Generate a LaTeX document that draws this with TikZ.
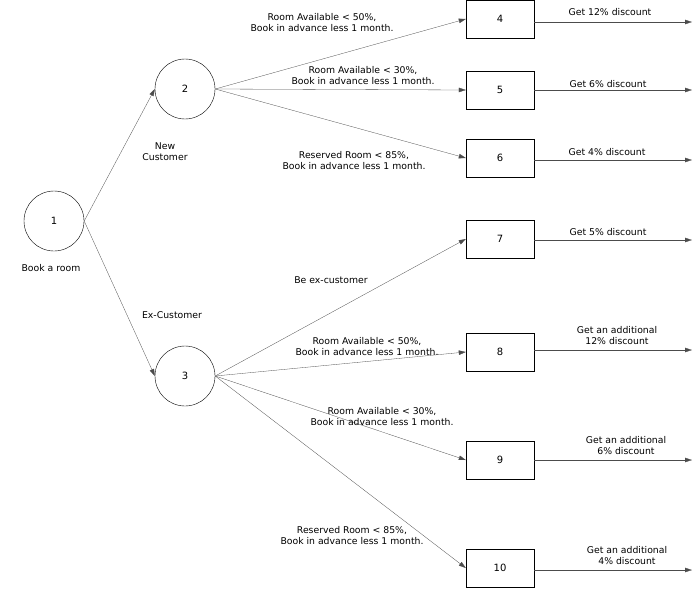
\documentclass[tikz,border=0pt]{standalone}
\usepackage{fontspec}
\setmainfont{DejaVu Sans}
\usetikzlibrary{arrows.meta}
\tikzset{state/.style={circle, draw, minimum size=60pt, inner sep=0pt, font=\fontsize{10}{12}\selectfont},
  box/.style={rectangle, draw, minimum width=68pt, minimum height=38pt, inner sep=0pt, font=\fontsize{10}{12}\selectfont},
  link/.style={draw=black!70, line width=0.3pt, -{Triangle[length=7pt,width=4.5pt]}},
  lbl/.style={font=\fontsize{9.3}{11}\selectfont, align=center, inner sep=0pt}}
\begin{document}
\begin{tikzpicture}[x=1pt,y=-1pt]
\useasboundingbox (0,0) rectangle (696,594);
% states
\node [state] (s1) at (54,221) {1};
\node [state] (s2) at (185,89) {2};
\node [state] (s3) at (185,376) {3};
% outcomes
\node [box] (b4) at (500,19) {4};
\node [box] (b5) at (500,90) {5};
\node [box] (b6) at (500,158) {6};
\node [box] (b7) at (500,239) {7};
\node [box] (b8) at (500,352) {8};
\node [box] (b9) at (500,460) {9};
\node [box] (b10) at (500,568) {10};
\coordinate (e4) at (692,22);
\coordinate (e5) at (692,90);
\coordinate (e6) at (692,160);
\coordinate (e7) at (692,240);
\coordinate (e8) at (692,350);
\coordinate (e9) at (692,460);
\coordinate (e10) at (692,570);
\draw [link] (s1.east) -- (s2.west);
\draw [link] (s1.east) -- (s3.west);
\draw [link] (s2.east) -- (b4.west);
\draw [link] (s2.east) -- (b5.west);
\draw [link] (s2.east) -- (b6.west);
\draw [link] (s3.east) -- (b7.west);
\draw [link] (s3.east) -- (b8.west);
\draw [link] (s3.east) -- (b9.west);
\draw [link] (s3.east) -- (b10.west);
\foreach \n in {4,...,10}
  \draw [link] (b\n.east |- e\n) -- (e\n);
% labels
\node [lbl] (l1) at (51,268) {Book a room};
\node [lbl] (l2) at (165,152) {New\\Customer};
\node [lbl] (l3) at (172,315) {Ex-Customer};
\node [lbl] (l4) at (322,23) {Room Available < 50\%,\\Book in advance less 1 month.};
\node [lbl] (l5) at (363,76) {Room Available < 30\%,\\Book in advance less 1 month.};
\node [lbl] (l6) at (354,161) {Reserved Room < 85\%,\\Book in advance less 1 month.};
\node [lbl] (l7) at (331,280) {Be ex-customer};
\node [lbl] (l8) at (367,347) {Room Available < 50\%,\\Book in advance less 1 month.};
\node [lbl] (l9) at (382,417) {Room Available < 30\%,\\Book in advance less 1 month.};
\node [lbl] (l10) at (352,536) {Reserved Room < 85\%,\\Book in advance less 1 month.};
\node [lbl] (o4) at (610,12) {Get 12\% discount};
\node [lbl] (o5) at (608,84) {Get 6\% discount};
\node [lbl] (o6) at (607,152) {Get 4\% discount};
\node [lbl] (o7) at (608,232) {Get 5\% discount};
\node [lbl] (o8) at (617,336) {Get an additional\\12\% discount};
\node [lbl] (o9) at (626,446) {Get an additional\\6\% discount};
\node [lbl] (o10) at (627,556) {Get an additional\\4\% discount};
\end{tikzpicture}
\end{document}
